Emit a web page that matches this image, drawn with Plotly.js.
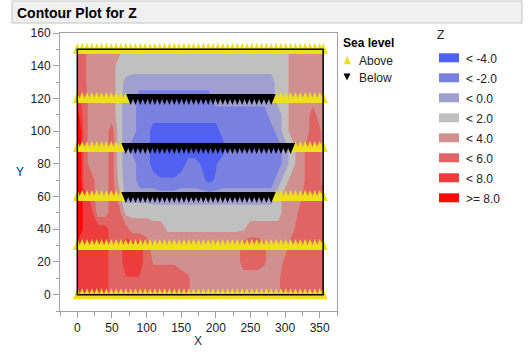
<!DOCTYPE html>
<html><head><meta charset="utf-8">
<script src="https://cdn.plot.ly/plotly-3.0.1.min.js"></script>
<style>html,body{margin:0;padding:0;background:#fff;} #chart{width:531px;height:358px;}</style>
</head><body><div id="chart"></div>
<script>
// ---------- data ----------
const chartTitle = 'Contour Plot for Z';
const xTitle = 'X';
const yTitle = 'Y';
const zTitle = 'Z';
const legendTitle = 'Sea level';
const seaLabels = ['Above', 'Below'];

const xGrid = [0,10,20,30,40,50,60,70,80,90,100,110,120,130,140,150,160,170,180,190,200,210,220,230,240,250,260,270,280,290,300,310,320,330,340,350,355];
const yGrid = [0,10,20,30,40,50,60,70,80,90,100,110,120,130,140,150];

const z_y0   = [7,7,7,7,7,5,5,5,5,5,5,5,5,5,5,5,4.3,3,3,3,3,3,3,3,3,3,3,3,3,3.6,5,5,5,5,5,5,5];
const z_y10  = [7,7,7,7,7,5,5,5.9,5.9,5.9,5,5,5,5,5,5,4.3,3,3,3,3,3,3,3,3,3,3,3,3,3.6,5,5,5,5,5,5,5];
const z_y20  = [7,7,7,7,7,5,5,7,7,7,5,3.8,3.8,3.8,3.8,3,3,3,3,3,3,3,3,3,5,5,5,4.3,3,3,4.5,5,5,5,5,5,5];
const z_y30  = [7,7,7,7,7,5,5,7,7,7,5,3,3,3,3,3,3,3,3,3,3,3,3,3,5,5,5,4.3,3,3,3,5,5,5,5,5,5];
const z_y40  = [12,7,7,7,7,5,5,5,3,3,3,3,3,1.8,1.8,1.8,1.8,1.8,1.8,1.8,1.8,1.8,1.8,1.8,1.8,3,3,3,3,3,3,3.4,5,5,5,5,5];
const z_y50  = [12,7,7,3,3,5,5,1.5,1.5,1.5,1.5,1,1,1,1,1,1,1,1,1,1,1,1,1,1,1,1,1,1,1,3,3,4.2,5,5,5,5];
const z_y60  = [12,7,5,3,3,5,3,-1,-1,-1,-1,-1,-1,-1,-1,-1,-1,-1,-1,-1,-1,-1,-1,-1,-1,-1,-1,-1,-1,1,3,3,3.5,4.5,5,5,5];
const z_y70  = [12,5,5,3,3,5,1.5,-1,-1,-3,-3,-3,-3.8,-3.8,-3.8,-3,-3,-3,-3.5,-4.5,-3.8,-3,-3,-3,-3,-3,-3,-3,-3,-1,1,3,3,4.2,5,4.5,3];
const z_y80  = [12,5,3,3,3,5,1,-1,-1,-3,-3,-5,-5,-5,-5,-5,-3.5,-3.5,-4.2,-5,-4.2,-3,-3,-3,-3,-3,-3,-3,-3,-3,-1,1,3,4.2,5,4.5,3];
const z_y90  = [12,5,3,3,3,5,1,-1,-3,-3,-3,-5,-5,-5,-5,-5,-5,-5,-5,-5,-5,-5,-3,-3,-3,-3,-3,-3,-3,-3,-1,1,3,4.2,5,4.5,3];
const z_y100 = [12,5,3,3,3,5,1,-1,-1,-3,-3,-5,-5,-5,-5,-5,-5,-5,-5,-5,-5,-3,-3,-3,-3,-3,-3,-3,-3,-1,1,3,3,3,5,4.5,3];
const z_y110 = [9,5,3,3,3,3,1,-1,-1,-3,-3,-3,-3,-3,-3,-3,-3,-3,-3,-3,-3,-3,-3,-3,-3,-3,-3,-3,-1,-1,1,3,3,3,5,3,3];
const z_y120 = [7,5,3,3,3,3,1,-1,-1,-3,-3,-3,-3,-3,-3,-3,-3,-3,-3,-3,-1,-1,-1,-1,-1,-1,-1,-1,-1,1,1,3,3,3,3,3,3];
const z_y130 = [5,4.4,3,3,3,3,1,-0.5,-1,-1,-1,-1,-1,-1,-1,-1,-1,-1,-1,-1,-1,-1,-1,-1,-1,-1,-1,-1,-1,1,1,3,3,3,3,3,3];
const z_y140 = [5,4.4,3,3,3,3,1,1,1,1,1,1,1,1,1,1,1,1,1,1,1,1,1,1,1,1,1,1,1,1,1,3,3,3,3,3,3];
const z_y150 = [5,4.4,3,3,3,3,3,1,1,1,1,1,1,1,1,1,1,1,1,1,1,1,1,1,1,1,1,1,1,1,1,3,3,3,3,3,3];
const zRows = [z_y0,z_y10,z_y20,z_y30,z_y40,z_y50,z_y60,z_y70,z_y80,z_y90,z_y100,z_y110,z_y120,z_y130,z_y140,z_y150];

const levelStart = -4, levelEnd = 8, levelStep = 2;
const bandLabels = ['< -4.0','< -2.0','< 0.0','< 2.0','< 4.0','< 6.0','< 8.0','>= 8.0'];
const bandColors = ['#5060f0','#7880e0','#a0a0d0','#c0c0c0','#d09090','#e06464','#ec3c3c','#ff0a0a'];

const markerX = [0,7,14,21,28,35,42,49,56,63,70,77,84,91,98,105,112,119,126,133,140,147,154,161,168,175,182,189,196,203,210,217,224,231,238,245,252,259,266,273,280,287,294,301,308,315,322,329,336,343,350,355];
const markerRows = [0,30,60,90,120,150];
const belowFrom = [null,null,70,65,75,null];
const belowTo   = [null,null,281,310,281,null];
const aboveColor = '#efe01c';
const belowColor = '#000000';

// ---------- build ----------
const aboveX=[],aboveY=[],belowX=[],belowY=[];
markerRows.forEach((ry,i)=>{
  markerX.forEach(mx=>{
    const isBelow = belowFrom[i]!==null && mx>=belowFrom[i] && mx<=belowTo[i];
    if(isBelow){belowX.push(mx);belowY.push(ry);} else {aboveX.push(mx);aboveY.push(ry);}
  });
});

const colorscale = bandColors.map((c,i)=>[i/(bandColors.length-1), c]);

const FONT = 'Liberation Sans, Arial, sans-serif';
const L=60, R=337, T=33, B=311;
const px = v => (v-L)/(R-L);
const py = v => (B-v)/(B-T);

const traces = [
  {type:'contour', x:xGrid, y:yGrid, z:zRows, autocontour:false,
   contours:{start:levelStart,end:levelEnd,size:levelStep,coloring:'fill',showlines:false},
   line:{width:0,smoothing:0}, colorscale:colorscale, showscale:false, hoverinfo:'skip'},
  {type:'scatter', mode:'markers', x:aboveX, y:aboveY, name:seaLabels[0],
   marker:{symbol:'triangle-up', size:11, color:aboveColor, line:{width:0}}, cliponaxis:false},
  {type:'scatter', mode:'markers', x:belowX, y:belowY, name:seaLabels[1],
   marker:{symbol:'triangle-down', size:11, color:belowColor, line:{width:0}}, cliponaxis:false}
];

const shapes = [
  {type:'rect', xref:'paper', yref:'paper', x0:px(12), x1:px(522), y0:py(1), y1:py(23),
   fillcolor:'#f0f0f0', line:{color:'#c4c4c4', width:1}, layer:'below'},
  {type:'rect', xref:'x', yref:'y', x0:Math.min(...xGrid), x1:Math.max(...xGrid),
   y0:Math.min(...yGrid), y1:Math.max(...yGrid), line:{color:'#000', width:1.5}, layer:'above'}
];
function triPath(cx, cy, w, h, up){
  const a = up ? [cx, cy-h/2] : [cx, cy+h/2];
  const b1 = up ? [cx-w/2, cy+h/2] : [cx-w/2, cy-h/2];
  const b2 = up ? [cx+w/2, cy+h/2] : [cx+w/2, cy-h/2];
  return 'M'+px(a[0])+','+py(a[1])+' L'+px(b1[0])+','+py(b1[1])+' L'+px(b2[0])+','+py(b2[1])+' Z';
}
shapes.push({type:'path', xref:'paper', yref:'paper', path:triPath(347.3,60,7,8.5,true), fillcolor:aboveColor, line:{width:0}});
shapes.push({type:'path', xref:'paper', yref:'paper', path:triPath(347,77,7,7,false), fillcolor:belowColor, line:{width:0}});

const annotations = [
  {text:'<b>'+chartTitle+'</b>', xref:'paper', yref:'paper', x:px(15), y:py(12.5), xanchor:'left', yanchor:'middle', showarrow:false, font:{family:FONT,size:14,color:'#000'}},
  {text:yTitle, xref:'paper', yref:'paper', x:px(20), y:py(172), xanchor:'center', yanchor:'middle', showarrow:false, font:{family:FONT,size:12,color:'#1f2a50'}},
  {text:xTitle, xref:'paper', yref:'paper', x:px(198), y:py(341), xanchor:'center', yanchor:'middle', showarrow:false, font:{family:FONT,size:12,color:'#1f2a50'}},
  {text:'<b>'+legendTitle+'</b>', xref:'paper', yref:'paper', x:px(341), y:py(42.5), xanchor:'left', yanchor:'middle', showarrow:false, font:{family:FONT,size:12,color:'#000'}},
  {text:seaLabels[0], xref:'paper', yref:'paper', x:px(357), y:py(60.5), xanchor:'left', yanchor:'middle', showarrow:false, font:{family:FONT,size:12,color:'#222'}},
  {text:seaLabels[1], xref:'paper', yref:'paper', x:px(357), y:py(77.5), xanchor:'left', yanchor:'middle', showarrow:false, font:{family:FONT,size:12,color:'#222'}},
  {text:zTitle, xref:'paper', yref:'paper', x:px(440.5), y:py(35), xanchor:'center', yanchor:'middle', showarrow:false, font:{family:FONT,size:12,color:'#222'}}
];
bandLabels.forEach((lab,i)=>{
  const top = 53.3 + 20*i;
  shapes.push({type:'rect', xref:'paper', yref:'paper', x0:px(439), x1:px(459), y0:py(top+9), y1:py(top),
    fillcolor:bandColors[i], line:{width:0}});
  annotations.push({text:lab, xref:'paper', yref:'paper', x:px(463.5), y:py(top+5.5), xanchor:'left', yanchor:'middle',
    showarrow:false, font:{family:FONT,size:12,color:'#222'}});
});

const axisCommon = {ticks:'outside', tickcolor:'#a0a0a0', showline:true, linecolor:'#a0a0a0', linewidth:1,
  mirror:true, showgrid:false, zeroline:false, tickfont:{family:FONT,size:12,color:'#222'}};

const layout = {
  width:531, height:358, margin:{l:L, r:531-R, t:T, b:358-B, pad:0},
  paper_bgcolor:'#fff', plot_bgcolor:'#fff', showlegend:false,
  font:{family:FONT,size:12,color:'#222'},
  xaxis:Object.assign({}, axisCommon, {range:[-25,375], tickmode:'linear', tick0:0, dtick:50, ticklen:6,
    minor:{tick0:0, dtick:25, ticks:'outside', ticklen:4, tickcolor:'#a0a0a0', showgrid:false}}),
  yaxis:Object.assign({}, axisCommon, {range:[-10,160], tickmode:'linear', tick0:0, dtick:20, ticklen:6,
    minor:{tick0:0, dtick:10, ticks:'outside', ticklen:3, tickcolor:'#a0a0a0', showgrid:false}}),
  shapes:shapes, annotations:annotations
};

Plotly.newPlot('chart', traces, layout, {displayModeBar:false, staticPlot:true}).then(gd => {
  // JMP-style markers are taller than Plotly's triangles: reshape the glyph (position stays Plotly's)
  const layers = gd.querySelectorAll('.scatterlayer .trace');
  const glyphs = ['M-4.5,4.5H4.5L0,-6.5Z', 'M-4.5,-4.5H4.5L0,6.5Z'];
  layers.forEach((tr, k) => {
    tr.querySelectorAll('path.point').forEach(p => p.setAttribute('d', glyphs[k] || glyphs[0]));
  });
});
</script></body></html>
